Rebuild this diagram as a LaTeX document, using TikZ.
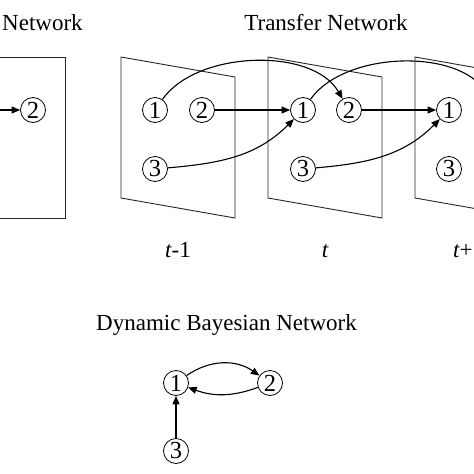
\documentclass[tikz,border=0pt]{standalone}
\usepackage{fontspec}
\setmainfont{Liberation Serif}
\usetikzlibrary{arrows.meta}
\begin{document}
\begin{tikzpicture}[x=1pt,y=-1pt,
  every node/.style={font=\fontsize{23}{27}\selectfont},
  var/.style={circle,draw,line width=0.8pt,minimum size=25pt,inner sep=0pt,fill=white,font=\fontsize{24.5}{27}\selectfont},
  edge/.style={line width=1.1pt,-{Triangle[length=8.5pt,width=7pt]}},
  panel/.style={draw=black!85,line width=0.9pt},
  lbl/.style={anchor=base,inner sep=0pt}]
\useasboundingbox (0,0) rectangle (474,474);
\clip (0,0) rectangle (474,474);
% panels
\draw[panel] (-10,57) rectangle (65,218);
\foreach \px in {121,268,415}{
  \draw[panel] (\px,57) -- (\px+114,77) -- (\px+114,218) -- (\px,198) -- cycle;
}
% static network
\coordinate (s1) at (-20,110);
\node[var] (s2) at (33,110) {2};
\draw[edge] (s1) -- (s2);
% transfer network nodes
\node[var] (a1) at (155,110) {1};
\node[var] (a2) at (202,110) {2};
\node[var] (a3) at (155,169) {3};
\node[var] (b1) at (303,110) {1};
\node[var] (b2) at (349,110) {2};
\node[var] (b3) at (303,169) {3};
\node[var] (c1) at (449,110) {1};
\node[var] (c3) at (449,169) {3};
\coordinate (c2) at (490,99.6);
% transfer edges
\draw[edge] (a1) to[out=55,in=120,looseness=0.85] (b2);
\draw[edge] (a2) -- (b1);
\draw[edge] (a3) to[out=5,in=225] (b1);
\draw[edge] (b1) to[out=55,in=120,looseness=0.85] (c2);
\draw[edge] (b2) -- (c1);
\draw[edge] (b3) to[out=5,in=225] (c1);
% labels
\node[anchor=base west,inner sep=0pt] (tstat) at (2,30.5) {Network};
\node[lbl] (ttr) at (326,30) {Transfer Network};
\node[lbl] (l1) at (178,257) {\itshape t\upshape-1};
\node[lbl] (l2) at (325,257) {\itshape t};
\node[anchor=base west,inner sep=0pt] (l3) at (453,257) {{\itshape t}+};
\node[lbl] (tdyn) at (226.5,330) {Dynamic Bayesian Network};
% dynamic network
\node[var] (d1) at (176,383) {1};
\node[var] (d2) at (270,383) {2};
\node[var] (d3) at (176,451) {3};
\draw[edge] (d1) to[out=35,in=145] (d2);
\draw[edge] (d2) to[out=200,in=-20] (d1);
\draw[edge] (d3) -- (d1);
\end{tikzpicture}
\end{document}
